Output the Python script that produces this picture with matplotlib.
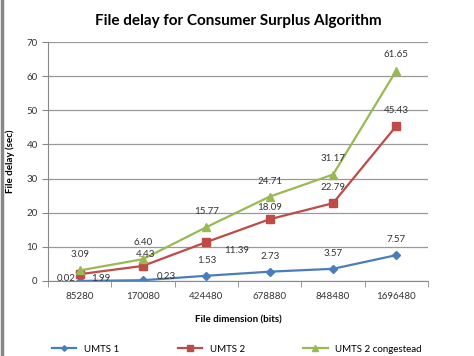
import matplotlib
matplotlib.use("Agg")
import matplotlib.pyplot as plt
import numpy as np

plt.rcParams["font.family"] = ["Lato", "DejaVu Sans"]

# data
file_sizes = ["85280", "170080", "424480", "678880", "848480", "1696480"]
umts1 = [0.02, 0.23, 1.53, 2.73, 3.57, 7.57]
umts2 = [1.99, 4.43, 11.39, 18.09, 22.79, 45.43]
umts2_cong = [3.09, 6.40, 15.77, 24.71, 31.17, 61.65]

BLUE = "#4A7EBB"
RED = "#BE4B48"
GREEN = "#98B954"

fig = plt.figure(figsize=(4.74, 3.56), dpi=100)
ax = fig.add_axes([48 / 474, 1 - 281 / 356, 380 / 474, 239 / 356])

x = np.arange(len(file_sizes))
ax.plot(x, umts1, "-D", color=BLUE, lw=1.6, ms=4, label="UMTS 1")
ax.plot(x, umts2, "-s", color=RED, lw=1.6, ms=6, label="UMTS 2")
ax.plot(x, umts2_cong, "-^", color=GREEN, lw=1.6, ms=6, label="UMTS 2 congestead")

lab = dict(fontsize=7, color="#333333")
# UMTS 1 labels
ax.annotate(f"{umts1[0]:.2f}", (x[0], umts1[0]), xytext=(-3, 2), textcoords="offset points", ha="right", va="center", **lab)
ax.annotate(f"{umts1[1]:.2f}", (x[1], umts1[1]), xytext=(10, 3), textcoords="offset points", ha="left", va="center", **lab)
for i in range(2, 6):
    ax.annotate(f"{umts1[i]:.2f}", (x[i], umts1[i]), xytext=(0, 8), textcoords="offset points", ha="center", va="bottom", **lab)
# UMTS 2 labels
ax.annotate(f"{umts2[0]:.2f}", (x[0], umts2[0]), xytext=(8, -3), textcoords="offset points", ha="left", va="center", **lab)
ax.annotate(f"{umts2[1]:.2f}", (x[1], umts2[1]), xytext=(2, 5), textcoords="offset points", ha="center", va="bottom", **lab)
ax.annotate(f"{umts2[2]:.2f}", (x[2], umts2[2]), xytext=(13, -6), textcoords="offset points", ha="left", va="center", **lab)
ax.annotate(f"{umts2[3]:.2f}", (x[3], umts2[3]), xytext=(0, 5), textcoords="offset points", ha="center", va="bottom", **lab)
ax.annotate(f"{umts2[4]:.2f}", (x[4], umts2[4]), xytext=(0, 8), textcoords="offset points", ha="center", va="bottom", **lab)
ax.annotate(f"{umts2[5]:.2f}", (x[5], umts2[5]), xytext=(0, 8), textcoords="offset points", ha="center", va="bottom", **lab)
# congested labels
ax.annotate(f"{umts2_cong[0]:.2f}", (x[0], umts2_cong[0]), xytext=(0, 8), textcoords="offset points", ha="center", va="bottom", **lab)
ax.annotate(f"{umts2_cong[1]:.2f}", (x[1], umts2_cong[1]), xytext=(0, 9), textcoords="offset points", ha="center", va="bottom", **lab)
for i in range(2, 6):
    ax.annotate(f"{umts2_cong[i]:.2f}", (x[i], umts2_cong[i]), xytext=(0, 8), textcoords="offset points", ha="center", va="bottom", **lab)

ax.set_xlim(-0.5, len(file_sizes) - 0.5)
ax.set_ylim(0, 70)
ax.set_yticks(np.arange(0, 71, 10))
ax.set_xticks(x)
ax.set_xticklabels(file_sizes)
ax.set_xticks(np.arange(-0.5, len(file_sizes)), minor=True)
ax.tick_params(axis="x", which="major", length=0, labelsize=7, colors="#333333", pad=8)
ax.tick_params(axis="x", which="minor", length=4, color="#888888")
ax.tick_params(axis="y", length=4, labelsize=7, colors="#333333", color="#888888")
ax.grid(axis="y", color="#999999", lw=0.9)
ax.set_axisbelow(True)
for side in ("top", "right"):
    ax.spines[side].set_visible(False)
ax.spines["left"].set_color("#888888")
ax.spines["bottom"].set_color("#888888")

ax.set_title("File delay for Consumer Surplus Algorithm", fontsize=11, fontweight="bold", pad=12)
ax.set_ylabel("File delay (sec)", fontsize=7, fontweight="bold", labelpad=8)
ax.set_xlabel("File dimension (bits)", fontsize=7, fontweight="bold", labelpad=10)

fig.legend(loc="center", bbox_to_anchor=(0.5, 1 - 349 / 356), ncol=3, frameon=False,
           fontsize=7, handlelength=2.5, columnspacing=6, markerscale=0.7)

# thin gray frame at the left edge of the picture
fig.add_artist(plt.Line2D([0.004, 0.004], [0, 1], color="#888888", lw=2.5, transform=fig.transFigure))

fig.savefig("out.png", dpi=100)
